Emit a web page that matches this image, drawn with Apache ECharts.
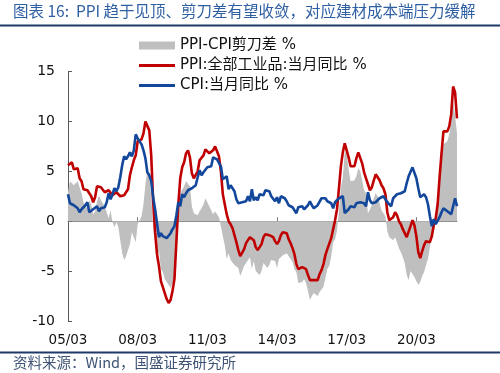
<!DOCTYPE html>
<html><head><meta charset="utf-8">
<script src="https://cdn.jsdelivr.net/npm/echarts@6/dist/echarts.min.js"></script>
<style>html,body{margin:0;padding:0;background:#fff}#c{width:500px;height:373px}</style>
</head><body><div id="c"></div>
<script>
// Monthly data, 2005/03 .. 2021/12 (202 months)
const startYear = 2005, startMonth = 3, monthCount = 202;
const xTickLabels = ['05/03', '08/03', '11/03', '14/03', '17/03', '20/03'];
const yMin = -10, yMax = 15, yStep = 5;

const ppi = [
  5.6, 5.8, 5.9, 5.2, 5.2, 5.3, 4.3, 4.0, 3.2, 3.2,
  3.1, 3.0, 2.5, 1.9, 2.4, 3.5, 3.6, 3.4, 3.5, 2.9, 2.8, 3.1,
  3.3, 2.6, 2.7, 2.9, 2.8, 2.5, 2.4, 2.6, 2.7, 3.2, 4.6, 5.4,
  6.1, 6.6, 8.0, 8.1, 8.2, 8.8, 10.0, 10.1, 9.1, 6.6, 2.0, -1.1,
  -3.3, -4.5, -6.0, -6.6, -7.2, -7.8, -8.2, -7.9, -7.0, -5.8, -2.1, 1.7,
  4.3, 5.4, 5.9, 6.8, 7.1, 6.4, 4.8, 4.3, 4.3, 5.0, 6.1, 5.9,
  6.6, 7.2, 7.3, 6.8, 6.8, 7.1, 7.5, 7.3, 6.5, 5.0, 2.7, 1.7,
  0.7, 0.0, -0.3, -0.7, -1.4, -2.1, -2.9, -3.5, -3.6, -2.8, -2.2, -1.9,
  -1.6, -1.6, -1.9, -2.6, -2.9, -2.7, -2.3, -1.6, -1.3, -1.5, -1.4, -1.4,
  -1.6, -2.0, -2.3, -2.0, -1.4, -1.1, -0.9, -1.2, -1.8, -2.2, -2.7, -3.3,
  -4.3, -4.8, -4.6, -4.6, -4.6, -4.8, -5.4, -5.9, -5.9, -5.9, -5.9, -5.9,
  -5.3, -4.9, -4.3, -3.4, -2.8, -2.6, -1.7, -0.8, 0.1, 1.2, 3.3, 5.5,
  6.9, 7.8, 7.6, 6.4, 5.5, 5.5, 5.5, 6.3, 6.9, 6.9, 5.8, 4.9,
  4.3, 3.7, 3.1, 3.4, 4.1, 4.7, 4.6, 4.1, 3.6, 3.3, 2.7, 0.9,
  0.1, 0.1, 0.4, 0.9, 0.6, 0.0, -0.3, -0.8, -1.2, -1.6, -1.4, -0.5,
  0.1, -0.4, -1.5, -3.1, -3.7, -3.0, -2.4, -2.0, -2.1, -2.1, -1.5, -0.4,
  0.3, 1.7, 4.4, 6.8, 9.0, 8.8, 9.0, 9.5, 10.7, 13.5, 12.9, 10.3
];

const cpi = [
  2.7, 1.8, 1.8, 1.6, 1.8, 1.3, 0.9, 1.2, 1.3, 1.6,
  1.9, 0.9, 0.8, 1.2, 1.4, 1.5, 1.0, 1.3, 1.5, 1.4, 1.9, 2.8,
  2.2, 2.7, 3.3, 3.0, 3.4, 4.4, 5.6, 6.5, 6.2, 6.5, 6.9, 6.5,
  7.1, 8.7, 8.3, 8.5, 7.7, 7.1, 6.3, 4.9, 4.6, 4.0, 2.4, 1.2,
  1.0, -1.6, -1.2, -1.5, -1.4, -1.7, -1.8, -1.2, -0.8, -0.5, 0.6, 1.9,
  1.5, 2.7, 2.4, 2.8, 3.1, 2.9, 3.3, 3.5, 3.6, 4.4, 5.1, 4.6,
  4.9, 4.9, 5.4, 5.3, 5.5, 6.4, 6.5, 6.2, 6.1, 5.5, 4.2, 4.1,
  4.5, 3.2, 3.6, 3.4, 3.0, 2.2, 1.8, 2.0, 1.9, 1.7, 2.0, 2.5,
  2.0, 3.2, 2.1, 2.4, 2.1, 2.7, 2.7, 2.6, 3.1, 3.2, 3.0, 2.5,
  2.5, 2.0, 2.4, 1.8, 2.5, 2.3, 2.3, 2.0, 1.6, 1.6, 1.4, 1.5,
  0.8, 1.4, 1.4, 1.5, 1.2, 1.4, 1.6, 2.0, 1.6, 1.3, 1.5, 1.6,
  1.8, 2.3, 2.3, 2.3, 2.0, 1.9, 1.8, 1.3, 1.9, 2.1, 2.3, 2.1,
  2.5, 0.8, 0.9, 1.2, 1.5, 1.5, 1.4, 1.8, 1.6, 1.9, 1.7, 1.8,
  1.5, 2.9, 2.1, 1.8, 1.8, 1.9, 2.1, 2.3, 2.5, 2.5, 2.2, 1.9,
  1.7, 1.5, 2.3, 2.5, 2.7, 2.7, 2.8, 2.8, 3.0, 3.8, 4.5, 4.5,
  5.4, 5.2, 4.3, 3.3, 2.4, 2.5, 2.7, 2.4, 1.7, 0.5, -0.5, 0.2,
  -0.3, -0.2, 0.4, 0.9, 1.3, 1.1, 1.0, 0.8, 0.7, 1.5, 2.3, 1.5
];

const gap = [
  2.9, 4.0, 4.1, 3.6, 3.4, 4.0, 3.4, 2.8, 1.9, 1.6,
  1.2, 2.1, 1.7, 0.7, 1.0, 2.0, 2.6, 2.1, 2.0, 1.5, 0.9, 0.3,
  1.1, -0.1, -0.6, -0.1, -0.6, -1.9, -3.2, -3.9, -3.5, -3.3, -2.3, -1.1,
  -1.0, -2.1, -0.3, -0.4, 0.5, 1.7, 3.7, 5.2, 4.5, 2.6, -0.4, -2.3,
  -4.3, -2.9, -4.8, -5.1, -5.8, -6.1, -6.4, -6.7, -6.2, -5.3, -2.7, -0.2,
  2.8, 2.7, 3.5, 4.0, 4.0, 3.5, 1.5, 0.8, 0.7, 0.6, 1.0, 1.3,
  1.7, 2.3, 1.9, 1.5, 1.3, 0.7, 1.0, 1.1, 0.4, -0.5, -1.5, -2.4,
  -3.8, -3.2, -3.9, -4.1, -4.4, -4.3, -4.7, -5.5, -5.5, -4.5, -4.2, -4.4,
  -3.6, -4.8, -4.0, -5.0, -5.0, -5.4, -5.0, -4.2, -4.4, -4.7, -4.4, -3.9,
  -4.1, -4.0, -4.7, -3.8, -3.9, -3.4, -3.2, -3.2, -3.4, -3.8, -4.1, -4.8,
  -5.1, -6.2, -6.0, -6.1, -5.8, -6.2, -7.0, -7.9, -7.5, -7.2, -7.4, -7.5,
  -7.1, -7.2, -6.6, -5.7, -4.8, -4.5, -3.5, -2.1, -1.8, -0.9, 1.0, 3.4,
  4.4, 7.0, 6.7, 5.2, 4.0, 4.0, 4.1, 4.5, 5.3, 5.0, 4.1, 3.1,
  2.8, 0.8, 1.0, 1.6, 2.3, 2.8, 2.5, 1.8, 1.1, 0.8, 0.5, -1.0,
  -1.6, -1.4, -1.9, -1.6, -2.1, -2.7, -3.1, -3.6, -4.2, -5.4, -5.9, -5.0,
  -5.3, -5.6, -5.8, -6.4, -6.1, -5.5, -5.1, -4.4, -3.8, -2.6, -1.0, -0.6,
  0.6, 1.9, 4.0, 5.9, 7.7, 7.7, 8.0, 8.7, 10.0, 12.0, 10.6, 8.8
];

const seriesNames = ['PPI-CPI剪刀差 %', 'PPI:全部工业品:当月同比 %', 'CPI:当月同比 %'];
const titleText = '图表 16:  PPI 趋于见顶、剪刀差有望收敛，对应建材成本端压力缓解';
const sourceText = '资料来源：Wind，国盛证券研究所';

const categories = [];
for (let i = 0; i < monthCount; i++) {
  const m0 = startMonth - 1 + i;
  const y = startYear + Math.floor(m0 / 12);
  const m = (m0 % 12) + 1;
  categories.push(String(y % 100).padStart(2, '0') + '/' + String(m).padStart(2, '0'));
}
const showTick = (idx, val) => xTickLabels.indexOf(val) >= 0;

const chart = echarts.init(document.getElementById('c'), null, { renderer: 'canvas' });
const latin = "'DejaVu Sans','Noto Sans CJK SC',sans-serif";
const lineIcon = 'path://M0,0H36V3H0Z';
chart.setOption({
  animation: false,
  backgroundColor: '#ffffff',
  grid: { left: 68, right: 43, top: 71.5, bottom: 52, containLabel: false },
  legend: {
    orient: 'vertical', left: 134, top: 33, itemWidth: 36, itemHeight: 8, itemGap: 5,
    symbolKeepAspect: true,
    textStyle: { fontSize: 15, color: '#111', fontFamily: latin },
    data: [
      { name: seriesNames[0], icon: 'rect', itemStyle: { color: '#BFBFBF' } },
      { name: seriesNames[1], icon: lineIcon, itemStyle: { color: '#C00000' } },
      { name: seriesNames[2], icon: lineIcon, itemStyle: { color: '#12479C' } }
    ]
  },
  xAxis: [
    {
      type: 'category', data: categories, boundaryGap: false, position: 'bottom',
      axisLine: { show: false, onZero: false }, axisTick: { show: false },
      axisLabel: { interval: showTick, margin: 13, fontSize: 13.5, color: '#111', fontFamily: latin },
      splitLine: { show: false }
    },
    {
      type: 'category', data: categories, boundaryGap: false, position: 'top',
      axisLine: { show: true, onZero: true, lineStyle: { color: '#7f7f7f', width: 1 } },
      axisTick: { show: true, inside: false, length: 4, interval: showTick, lineStyle: { color: '#7f7f7f' } },
      axisLabel: { show: false }, splitLine: { show: false }
    }
  ],
  yAxis: {
    type: 'value', min: yMin, max: yMax, interval: yStep,
    axisLine: { show: true, onZero: false, lineStyle: { color: '#595959', width: 1 } },
    axisTick: { show: true, inside: true, length: 4, lineStyle: { color: '#595959' } },
    axisLabel: { margin: 13, fontSize: 14, color: '#111', fontFamily: latin },
    splitLine: { show: false }
  },
  series: [
    {
      name: seriesNames[0], type: 'line', data: gap, symbol: 'none',
      lineStyle: { width: 0, opacity: 0 }, itemStyle: { color: '#BFBFBF' },
      areaStyle: { color: '#BFBFBF', opacity: 1 }, z: 1
    },
    {
      name: seriesNames[1], type: 'line', data: ppi, symbol: 'none',
      lineStyle: { width: 2.6, color: '#C00000' }, itemStyle: { color: '#C00000' }, z: 3
    },
    {
      name: seriesNames[2], type: 'line', data: cpi, symbol: 'none',
      lineStyle: { width: 2.6, color: '#12479C' }, itemStyle: { color: '#12479C' }, z: 4
    }
  ],
  graphic: [
    { type: 'text', left: 13, top: 3, style: { text: titleText, fontSize: 15.5, fill: '#2E5FA3',
        fontFamily: "'Noto Sans CJK SC','DejaVu Sans',sans-serif" } },
    { type: 'rect', shape: { x: 0, y: 24.5, width: 500, height: 2 }, style: { fill: '#1F3A68' } },
    { type: 'rect', shape: { x: 0, y: 351.5, width: 500, height: 2 }, style: { fill: '#1F3A68' } },
    { type: 'text', left: 13, top: 355, style: { text: sourceText, fontSize: 14.5, fill: '#3E5375',
        fontFamily: "'Noto Sans CJK SC','DejaVu Sans',sans-serif" } }
  ]
});
</script>
</body></html>
